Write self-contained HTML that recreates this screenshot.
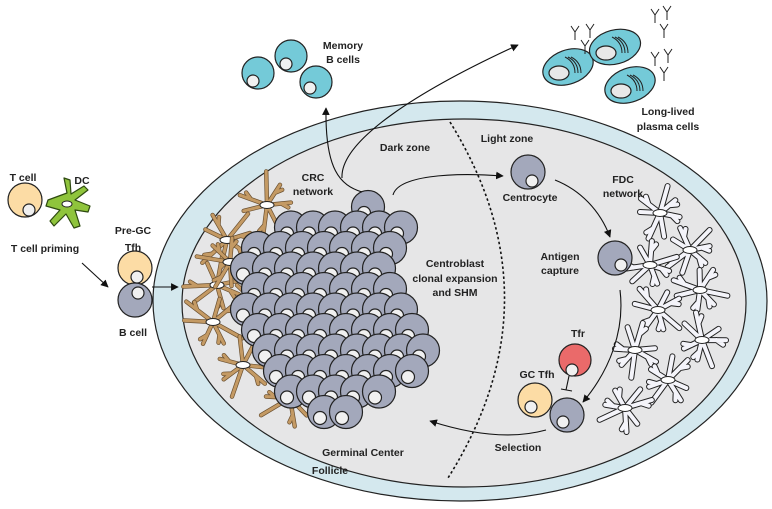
<!DOCTYPE html>
<html><head><meta charset="utf-8"><style>
html,body{margin:0;padding:0;background:#fff}
svg{display:block}
text{font-family:"Liberation Sans",sans-serif;font-weight:bold;font-size:10.5px;fill:#222;text-anchor:middle}
</style></head><body>
<svg id="s" width="772" height="509" viewBox="0 0 772 509" xmlns="http://www.w3.org/2000/svg">
<defs>
<marker id="ah" viewBox="0 0 10 10" refX="9" refY="5" markerWidth="7" markerHeight="7" orient="auto"><path d="M0,0 L10,5 L0,10 z" fill="#111"/></marker>
</defs>
<ellipse cx="460" cy="301" rx="307" ry="200" fill="#d4e8ee" stroke="#222" stroke-width="1.2"/>
<ellipse cx="464" cy="303" rx="282" ry="184" fill="#e6e6e7" stroke="#222" stroke-width="1.2"/>
<g id="crc"></g>
<g id="fdc"></g>
<g id="clu"></g>
<path d="M450,122 Q560,300 448,478" fill="none" stroke="#111" stroke-width="1.6" stroke-dasharray="2.5,2.5"/>
<path d="M362,192 C340,185 325,170 326,108" fill="none" stroke="#111" stroke-width="1.1" marker-end="url(#ah)"/>
<path d="M342,178 C340,140 420,90 518,45" fill="none" stroke="#111" stroke-width="1.1" marker-end="url(#ah)"/>
<path d="M393,195 C398,176 450,172 503,176" fill="none" stroke="#111" stroke-width="1.1" marker-end="url(#ah)"/>
<path d="M555,180 C580,190 600,210 610,237" fill="none" stroke="#111" stroke-width="1.1" marker-end="url(#ah)"/>
<path d="M620,290 C625,330 610,370 583,402" fill="none" stroke="#111" stroke-width="1.1" marker-end="url(#ah)"/>
<path d="M546,430 C510,440 470,434 430,421" fill="none" stroke="#111" stroke-width="1.1" marker-end="url(#ah)"/>
<path d="M82,263 L108,287" stroke="#111" stroke-width="1.1" marker-end="url(#ah)"/>
<path d="M152,287 L178,287" stroke="#111" stroke-width="1.1" marker-end="url(#ah)"/>
<path d="M569,376 L566,390 M561,389 L572,391" stroke="#111" stroke-width="1.1"/>
<g id="cells"></g>
<text x="343" y="49">Memory</text><text x="343" y="63">B cells</text>
<text x="668" y="115">Long-lived</text><text x="668" y="130">plasma cells</text>
<text x="405" y="151">Dark zone</text>
<text x="507" y="142">Light zone</text>
<text x="313" y="181">CRC</text><text x="313" y="195">network</text>
<text x="623" y="183">FDC</text><text x="623" y="197">network</text>
<text x="530" y="201">Centrocyte</text>
<text x="455" y="267">Centroblast</text><text x="455" y="282">clonal expansion</text><text x="455" y="296">and SHM</text>
<text x="560" y="260">Antigen</text><text x="560" y="274">capture</text>
<text x="578" y="337">Tfr</text>
<text x="537" y="378">GC Tfh</text>
<text x="518" y="451">Selection</text>
<text x="363" y="456">Germinal Center</text>
<text x="330" y="474">Follicle</text>
<text x="23" y="181">T cell</text><text x="82" y="184">DC</text>
<text x="45" y="252">T cell priming</text>
<text x="133" y="234">Pre-GC</text><text x="133" y="251">Tfh</text>
<text x="133" y="336">B cell</text>
</svg>
<script>
const NS="http://www.w3.org/2000/svg";
function el(p,t,a){const e=document.createElementNS(NS,t);for(const k in a)e.setAttribute(k,a[k]);document.getElementById(p).appendChild(e);return e;}
function cell(p,x,y,r,fill,nx,ny,nr){el(p,'circle',{cx:x,cy:y,r:r,fill:fill,stroke:'#222','stroke-width':1.2});el(p,'circle',{cx:x+nx,cy:y+ny,r:nr,fill:'#f0f0f0',stroke:'#222','stroke-width':1.2});}
function star(p,x,y,col,lw,seed,sc){
 let d='';const n=7;
 for(let i=0;i<n;i++){const a=seed+i*2*Math.PI/n+(i%2?0.2:-0.1);const L=(20+(i%3)*4)*sc;
  const ex=x+L*Math.cos(a),ey=y+L*Math.sin(a);d+=`M${x},${y} L${ex.toFixed(1)},${ey.toFixed(1)} `;
  if(i%2==0){const b=a+0.6;d+=`M${(x+L*0.6*Math.cos(a)).toFixed(1)},${(y+L*0.6*Math.sin(a)).toFixed(1)} l${(8*Math.cos(b)).toFixed(1)},${(8*Math.sin(b)).toFixed(1)} `;}}
 if(col=='#fff'){el(p,'path',{d:d,stroke:'#222','stroke-width':lw+2,fill:'none','stroke-linecap':'round'});el(p,'path',{d:d,stroke:'#f4f4fa','stroke-width':lw,fill:'none','stroke-linecap':'round'});}
 else{el(p,'path',{d:d,stroke:'#6b5030','stroke-width':lw+1.4,fill:'none','stroke-linecap':'round'});el(p,'path',{d:d,stroke:'#c49a64','stroke-width':lw,fill:'none','stroke-linecap':'round'});}
 el(p,'ellipse',{cx:x,cy:y,rx:7,ry:3.5,fill:'#fff',stroke:'#222','stroke-width':1});
}
[[267,205],[227,240],[217,285],[213,322],[258,305],[243,365],[290,398],[230,262]].forEach((c,i)=>star('crc',c[0],c[1],'#c49a64',3,i*0.7,1.2));
[[660,213],[690,250],[650,265],[700,290],[658,310],[702,340],[635,350],[668,380],[625,408]].forEach((c,i)=>star('fdc',c[0],c[1],'#fff',4,i*0.5+0.3,1));
function interp(arr,y){if(y<=arr[0][0])return arr[0][1];for(let i=1;i<arr.length;i++){if(y<=arr[i][0]){const t=(y-arr[i-1][0])/(arr[i][0]-arr[i-1][0]);return arr[i-1][1]+t*(arr[i][1]-arr[i-1][1]);}}return arr[arr.length-1][1];}
const L=[[207,360],[218,300],[235,272],[270,248],[300,250],[335,255],[365,268],[395,295],[410,315]];
const R=[[207,375],[228,402],[265,390],[300,402],[313,410],[333,425],[365,436],[380,415],[410,360]];
const pts=[];
for(let row=0;row<11;row++){const y=207+row*20.5;const off=(row%2)*11;
 const l=interp(L,y),r=interp(R,y);
 for(let x=236+off;x<=444;x+=22){if(x>=l-6&&x<=r+6)pts.push([x,y]);}}
pts.forEach(p=>cell('clu',p[0],p[1],16.5,'#a3a8bb',-4,6,6.5));
const blu='#74cad8';
cell('cells',258,73,16,blu,-5,8,6);cell('cells',291,56,16,blu,-5,8,6);cell('cells',316,82,16,blu,-6,6,6);
cell('cells',528,172,17,'#a3a8bb',4,9,6);
cell('cells',615,258,17,'#a3a8bb',6,7,6);
cell('cells',575,360,16,'#ea6a6a',-3,10,6);
cell('cells',535,400,17,'#fcdca5',-4,7,6);
cell('cells',567,415,17,'#a3a8bb',-4,7,6);
cell('cells',25,200,17,'#fcdca5',4,10,6);
cell('cells',135,268,17,'#fcdca5',2,9,6);
cell('cells',135,300,17,'#a3a8bb',3,-7,6);
const dc='M67,193 L64,178 L70,180 L71,194 L84,186 L88,190 L75,200 L90,206 L88,212 L75,210 L80,226 L74,228 L66,214 L54,226 L50,221 L60,210 L46,206 L48,200 Z';
el('cells','path',{d:dc,fill:'#8fc43c',stroke:'#2e4a10','stroke-width':1.2,'stroke-linejoin':'round'});
el('cells','ellipse',{cx:67,cy:204,rx:5,ry:3,fill:'#fff',stroke:'#222','stroke-width':1});
[[568,67,26,17,-20],[615,47,26,17,-15],[630,85,26,17,-20]].forEach(p=>{
 el('cells','ellipse',{cx:p[0],cy:p[1],rx:p[2],ry:p[3],transform:`rotate(${p[4]} ${p[0]} ${p[1]})`,fill:blu,stroke:'#222','stroke-width':1.2});
 el('cells','ellipse',{cx:p[0]-9,cy:p[1]+6,rx:10,ry:7,fill:'#e8e8e8',stroke:'#222','stroke-width':1.2});
 for(let k=0;k<3;k++)el('cells','path',{d:`M${p[0]-3+k*3},${p[1]-10} q10,5 10,16`,fill:'none',stroke:'#222','stroke-width':1});
});
[[575,32],[590,30],[585,46],[655,15],[667,12],[664,30],[655,58],[668,55],[664,73]].forEach(a=>{
 el('cells','path',{d:`M${a[0]},${a[1]} l0,8 M${a[0]},${a[1]} l-4,-6 M${a[0]},${a[1]} l4,-6`,stroke:'#222','stroke-width':1,fill:'none'});
});
</script>
</body></html>
